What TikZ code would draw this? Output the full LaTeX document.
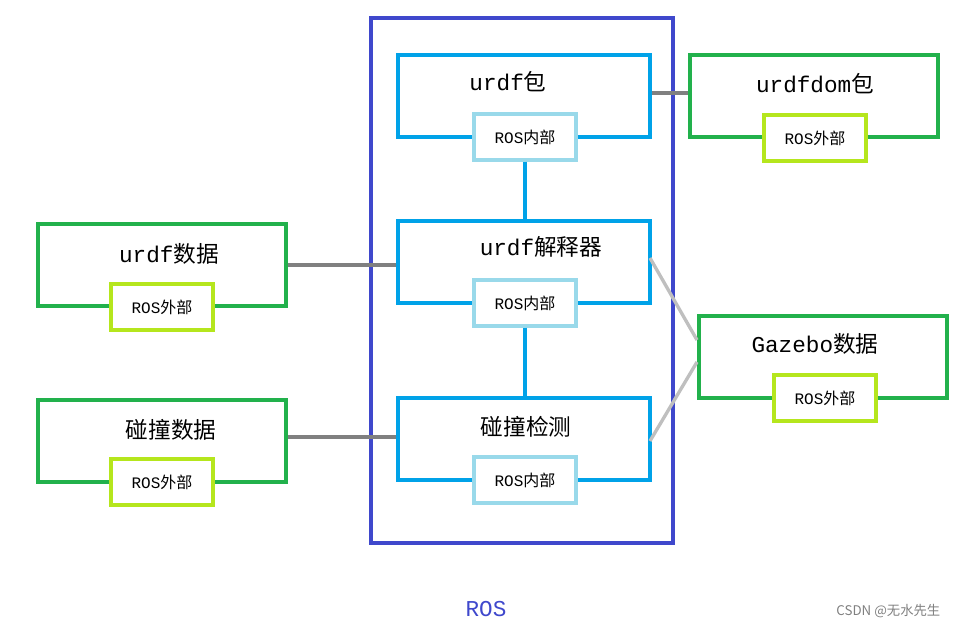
\documentclass[tikz,border=0pt]{standalone}
\usepackage{fontspec}
\setmainfont{Liberation Mono}
\newfontfamily\cjk{Noto Sans CJK SC}
\usetikzlibrary{positioning}
\definecolor{rosblue}{HTML}{3F48CC}
\definecolor{incyan}{HTML}{00A2E8}
\definecolor{inlight}{HTML}{99D9EA}
\definecolor{outgreen}{HTML}{22B14C}
\definecolor{outlime}{HTML}{B5E61D}
\tikzset{
  inbox/.style={draw=incyan, line width=3pt, minimum width=189pt, minimum height=61.5pt, inner sep=0pt},
  outbox/.style={draw=outgreen, line width=3pt, minimum width=186pt, minimum height=61.5pt, inner sep=0pt},
  intag/.style={draw=inlight, fill=white, line width=3pt, minimum width=77pt, minimum height=34pt, inner sep=0pt, font=\fontsize{12}{14}\selectfont},
  outtag/.style={draw=outlime, fill=white, line width=3pt, minimum width=77pt, minimum height=34pt, inner sep=0pt, font=\fontsize{12}{14}\selectfont},
  title/.style={font=\fontsize{17}{20}\selectfont},
  link/.style={draw=gray, line width=2.5pt},
}
\begin{document}
\begin{tikzpicture}[x=0.75pt, y=-0.75pt]
  \useasboundingbox (0,0) rectangle (958,630);

  %ROS frame
  \draw[rosblue, line width=3pt] (371,18) rectangle (673,543);
  \node[text=rosblue, font=\fontsize{17}{20}\selectfont] (ros) at (486,609) {ROS};

  %inside boxes
  \node[inbox] (urdfpkg) at (524,96) {};
  \node[inbox] (parser) at (524,262) {};
  \node[inbox] (check) at (524,439) {};
  \node[title] at (508,82) {urdf{\cjk 包}};
  \node[title] at (541,247) {urdf{\cjk 解释器}};
  \node[title] at (526,427) {{\cjk 碰撞检测}};
  \node[intag] (tagA) at (525,137) {ROS{\cjk 内部}};
  \node[intag] (tagB) at (525,303) {ROS{\cjk 内部}};
  \node[intag] (tagC) at (525,480) {ROS{\cjk 内部}};

  %outside boxes
  \node[outbox] (urdfdom) at (814,96) {};
  \node[outbox] (urdfdata) at (162,265) {};
  \node[outbox] (hitdata) at (162,441) {};
  \node[outbox] (gazebo) at (823,357) {};
  \node[title] at (815,84) {urdfdom{\cjk 包}};
  \node[title] at (169,254) {urdf{\cjk 数据}};
  \node[title] at (171,430) {{\cjk 碰撞数据}};
  \node[title] at (815,344) {Gazebo{\cjk 数据}};
  \node[outtag] (tagD) at (815,138) {ROS{\cjk 外部}};
  \node[outtag] (tagE) at (162,307) {ROS{\cjk 外部}};
  \node[outtag] (tagF) at (162,482) {ROS{\cjk 外部}};
  \node[outtag] (tagG) at (825,398) {ROS{\cjk 外部}};

  %connectors
  \draw[link] (urdfpkg.east |- 0,93) -- (urdfdom.west |- 0,93);
  \draw[link] (urdfdata.east) -- (parser.west |- urdfdata.east);
  \draw[link] (hitdata.east |- 0,437) -- (check.west |- 0,437);
  \draw[incyan, line width=3pt] (tagA.south) -- (parser.north -| tagA.south);
  \draw[incyan, line width=3pt] (tagB.south) -- (check.north -| tagB.south);
  \draw[gray!50, line width=2.5pt] (650,258) -- (gazebo.west |- 0,340);
  \draw[gray!50, line width=2.5pt] (650,441) -- (gazebo.west |- 0,362);

  %watermark
  \node[text=gray, font=\fontsize{10}{12}\selectfont\cjk, anchor=east] (mark) at (945,611) {CSDN @无水先生};
\end{tikzpicture}
\end{document}
